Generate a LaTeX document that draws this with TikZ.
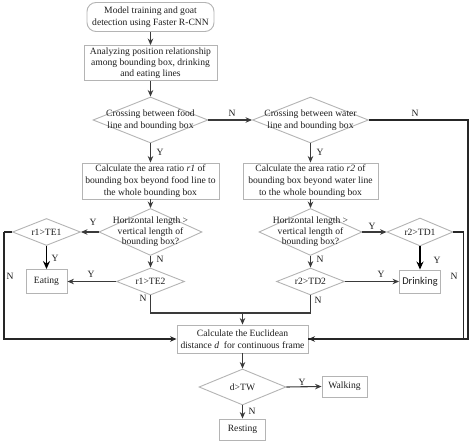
\documentclass[tikz,border=0pt]{standalone}
\usepackage{fontspec}
\setmainfont{Liberation Serif}
\newfontfamily\carl{Carlito}
\usetikzlibrary{shapes.geometric,arrows.meta}
\definecolor{boxc}{HTML}{B4B4B4}
\definecolor{arrc}{HTML}{3A3A3A}
\definecolor{txtc}{HTML}{1E1E1E}
\tikzset{
  base/.style={font=\fontsize{9.6}{12}\selectfont, text=txtc},
  box/.style={base, draw=boxc, line width=0.9pt, fill=white, inner sep=0pt, align=center},
  dia/.style={draw=boxc, line width=0.9pt, fill=white, shape=diamond, inner sep=0pt},
  dlab/.style={base, align=center},
  arr/.style={draw=arrc, line width=1.1pt, -{Stealth[length=6.5pt,width=5.5pt]}},
  ln/.style={draw=arrc, line width=1.1pt},
  tarr/.style={draw=black, line width=1.8pt, -{Stealth[length=8pt,width=7pt]}},
  nl/.style={draw=black!85, line width=1.2pt},
  yn/.style={base, inner sep=0pt}
}
\begin{document}
\begin{tikzpicture}[x=1pt,y=-1pt]
\useasboundingbox (0,0) rectangle (474,446);
% nodes
\node[box, rounded corners=9pt, minimum width=127pt, minimum height=29pt] (start) at (150.5,17) {Model training and goat\\detection using Faster R-CNN};
\node[box, minimum width=133pt, minimum height=35pt, font=\fontsize{9.6}{11}\selectfont] (ana) at (150.5,63) {Analyzing position relationship\\among bounding box, drinking\\and eating lines};
\node[dia, minimum width=115pt, minimum height=46pt, label={[dlab]center:{Crossing between food\\line and bounding box}}] (d1) at (150.5,120) {};
\node[dia, minimum width=116pt, minimum height=46pt, label={[dlab]center:{Crossing between water\\line and bounding box}}] (d2) at (310.5,120) {};
\node[box, minimum width=137pt, minimum height=36pt] (c1) at (150.5,181) {Calculate the area ratio \textit{r1} of\\bounding box beyond food line to\\the whole bounding box};
\node[box, minimum width=135pt, minimum height=36pt] (c2) at (310.5,181) {Calculate the area ratio \textit{r2} of\\bounding box beyond water line\\to the whole bounding box};
\node[dia, minimum width=103pt, minimum height=47pt, label={[dlab, font=\fontsize{9.6}{10.5}\selectfont]center:{Horizontal length >\\vertical length of\\bounding box?}}] (h1) at (150.5,232) {};
\node[dia, minimum width=103pt, minimum height=47pt, label={[dlab, font=\fontsize{9.6}{10.5}\selectfont]center:{Horizontal length >\\vertical length of\\bounding box?}}] (h2) at (310.5,232) {};
\node[dia, minimum width=68pt, minimum height=27pt, label={[dlab]center:{r1>TE1}}] (te1) at (46.5,232) {};
\node[dia, minimum width=66pt, minimum height=28pt, label={[dlab]center:{r2>TD1}}] (td1) at (420,232) {};
\node[box, minimum width=41pt, minimum height=24pt] (eat) at (46.5,281.5) {Eating};
\node[dia, minimum width=68pt, minimum height=27pt, label={[dlab]center:{r1>TE2}}] (te2) at (150.5,281.5) {};
\node[dia, minimum width=68pt, minimum height=27pt, label={[dlab]center:{r2>TD2}}] (td2) at (310.5,281.5) {};
\node[box, minimum width=41pt, minimum height=23pt, font=\carl\fontsize{10.4}{12}\selectfont] (drink) at (420,281.5) {Drinking};
\node[box, minimum width=131pt, minimum height=28pt] (euc) at (242.5,339) {Calculate the Euclidean\\distance \textit{d}\ \ for continuous frame};
\node[dia, minimum width=87pt, minimum height=36pt, label={[dlab]center:{d>TW}}] (dtw) at (242.5,387) {};
\node[box, minimum width=45pt, minimum height=21pt] (walk) at (344.5,386.5) {Walking};
\node[box, minimum width=46pt, minimum height=21pt] (rest) at (242.5,429.5) {Resting};
% helper coordinates
\coordinate (rN) at (468,120);
\coordinate (rN2) at (463.5,339);
\coordinate (lN) at (4,232);
\coordinate (jl) at (150.5,313);
\coordinate (jr) at (310.5,313);
\coordinate (jm) at (242.5,313);
% connectors
\draw[arr] (start.south) -- (ana.north);
\draw[arr] (ana.south) -- (d1.north);
\draw[arr] (d1.east) -- (d2.west);
\draw[nl] (d2.east) -- (rN) |- (euc.east);
\draw[arr, draw=black!85, line width=1.2pt] (rN2) -- (euc.east);
\draw[nl] (td1.east) -| (rN2);
\draw[arr] (d1.south) -- (c1.north);
\draw[arr] (d2.south) -- (c2.north);
\draw[arr] (c1.south) -- (h1.north);
\draw[arr] (c2.south) -- (h2.north);
\draw[arr] (h1.west) -- (te1.east);
\draw[arr] (h2.east) -- (td1.west);
\draw[tarr] (te1.south) -- (eat.north);
\draw[tarr] (td1.south) -- (drink.north);
\draw[nl] (te1.west) -- (lN);
\draw[arr, draw=black!85, line width=1.2pt] (lN) |- (euc.west);
\draw[arr] (h1.south) -- (te2.north);
\draw[arr] (h2.south) -- (td2.north);
\draw[arr] (te2.west) -- (eat.east);
\draw[arr] (td2.east) -- (drink.west);
\draw[ln] (te2.south) -- (jl) -- (jr) -- (td2.south);
\draw[arr] (jm) -- (euc.north);
\draw[arr] (euc.south) -- (dtw.north);
\draw[arr] (dtw.east) -- (walk.west);
\draw[arr] (dtw.south) -- (rest.north);
% labels
\node[yn] (l1) at (232,113) {N};
\node[yn] (l2) at (415,113) {N};
\node[yn] (l3) at (160,152) {Y};
\node[yn] (l4) at (320,152) {Y};
\node[yn] (l5) at (93,222) {Y};
\node[yn] (l6) at (55,258) {Y};
\node[yn] (l7) at (10,276) {N};
\node[yn] (l8) at (160,259) {N};
\node[yn] (l9) at (91,274) {Y};
\node[yn] (l10) at (143,298) {N};
\node[yn] (l11) at (318,300) {N};
\node[yn] (l12) at (372,226) {Y};
\node[yn] (l13) at (320,259) {N};
\node[yn] (l14) at (381,274) {Y};
\node[yn] (l15) at (437,260) {Y};
\node[yn] (l16) at (454,276) {N};
\node[yn] (l17) at (302,382) {Y};
\node[yn] (l18) at (252,411) {N};
\end{tikzpicture}
\end{document}
